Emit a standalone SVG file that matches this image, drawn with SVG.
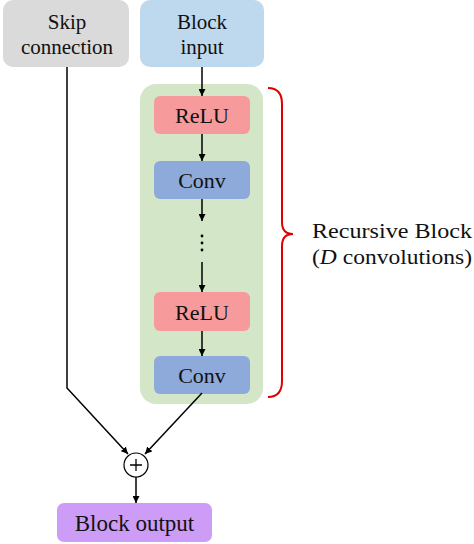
<svg xmlns="http://www.w3.org/2000/svg" width="474" height="544" viewBox="0 0 474 544">
<defs>
<marker id="ah" viewBox="0 0 10 10" refX="10" refY="5" markerWidth="7" markerHeight="7" markerUnits="userSpaceOnUse" orient="auto">
<path d="M0,0 L10,5 L0,10 z" fill="#000"/>
</marker>
<style>
.ln{stroke:#000;stroke-width:1.5;fill:none}
.s{font-family:"Liberation Serif","Times New Roman","DejaVu Serif",serif}
</style>
</defs>
<rect x="0" y="0" width="474" height="544" fill="#fff"/>
<g class="s" fill="#111" text-anchor="middle">
<g id="recursive-block">
<rect x="140" y="84" width="123" height="320" rx="16" fill="#d3e6c8"/>
</g>
<g id="skip">
<rect x="3" y="0" width="126" height="67" rx="10" fill="#dadada"/>
<text font-size="21" x="67" y="29">Skip</text>
<text font-size="21" x="67" y="54">connection</text>
</g>
<g id="block-input">
<rect x="140" y="0" width="124" height="67" rx="10" fill="#bed8ee"/>
<text font-size="21" x="202" y="29">Block</text>
<text font-size="21" x="202" y="54">input</text>
</g>
<g id="relu1">
<rect x="154" y="96" width="96" height="38" rx="6" fill="#f79a9c"/>
<text font-size="22" x="202" y="123">ReLU</text>
</g>
<g id="conv1">
<rect x="154" y="161" width="96" height="38" rx="6" fill="#8eaadb"/>
<text font-size="22" x="202" y="188">Conv</text>
</g>
<g id="relu2">
<rect x="154" y="292" width="96" height="39" rx="6" fill="#f79a9c"/>
<text font-size="22" x="202" y="320">ReLU</text>
</g>
<g id="conv2">
<rect x="154" y="356" width="96" height="38" rx="6" fill="#8eaadb"/>
<text font-size="22" x="202" y="383">Conv</text>
</g>
<g id="plus">
<circle cx="136" cy="465" r="12" fill="#fff" stroke="#000" stroke-width="1.2"/>
<path d="M130,465 H142 M136,459 V471" stroke="#000" stroke-width="1.3"/>
</g>
<g id="block-output">
<rect x="57" y="503" width="155" height="39" rx="7" fill="#cc9cf6"/>
<text font-size="23" x="134.5" y="531">Block output</text>
</g>
<g id="brace">
<path d="M268,88 Q282,88 282,104 L282,222 Q282,234 293,234 Q282,234 282,246 L282,381 Q282,397 268,397" fill="none" stroke="#e00000" stroke-width="2"/>
<text font-size="22" x="312" y="238" text-anchor="start" textLength="160" lengthAdjust="spacingAndGlyphs">Recursive Block</text>
<text font-size="22" x="312" y="264" text-anchor="start" textLength="160" lengthAdjust="spacingAndGlyphs">(<tspan font-style="italic">D</tspan> convolutions)</text>
</g>
</g>
<g id="connectors">
<line class="ln" x1="202" y1="67" x2="202" y2="96" marker-end="url(#ah)"/>
<line class="ln" x1="202" y1="134" x2="202" y2="161" marker-end="url(#ah)"/>
<line class="ln" x1="202" y1="199" x2="202" y2="221" marker-end="url(#ah)"/>
<circle cx="202" cy="236" r="1.4" fill="#000"/>
<circle cx="202" cy="243" r="1.4" fill="#000"/>
<circle cx="202" cy="250" r="1.4" fill="#000"/>
<line class="ln" x1="202" y1="262" x2="202" y2="292" marker-end="url(#ah)"/>
<line class="ln" x1="202" y1="331" x2="202" y2="356" marker-end="url(#ah)"/>
<polyline class="ln" points="67,67 67,388 128,454" marker-end="url(#ah)"/>
<line class="ln" x1="202" y1="393" x2="145" y2="454" marker-end="url(#ah)"/>
<line class="ln" x1="136" y1="477" x2="136" y2="503" marker-end="url(#ah)"/>
</g>
</svg>
